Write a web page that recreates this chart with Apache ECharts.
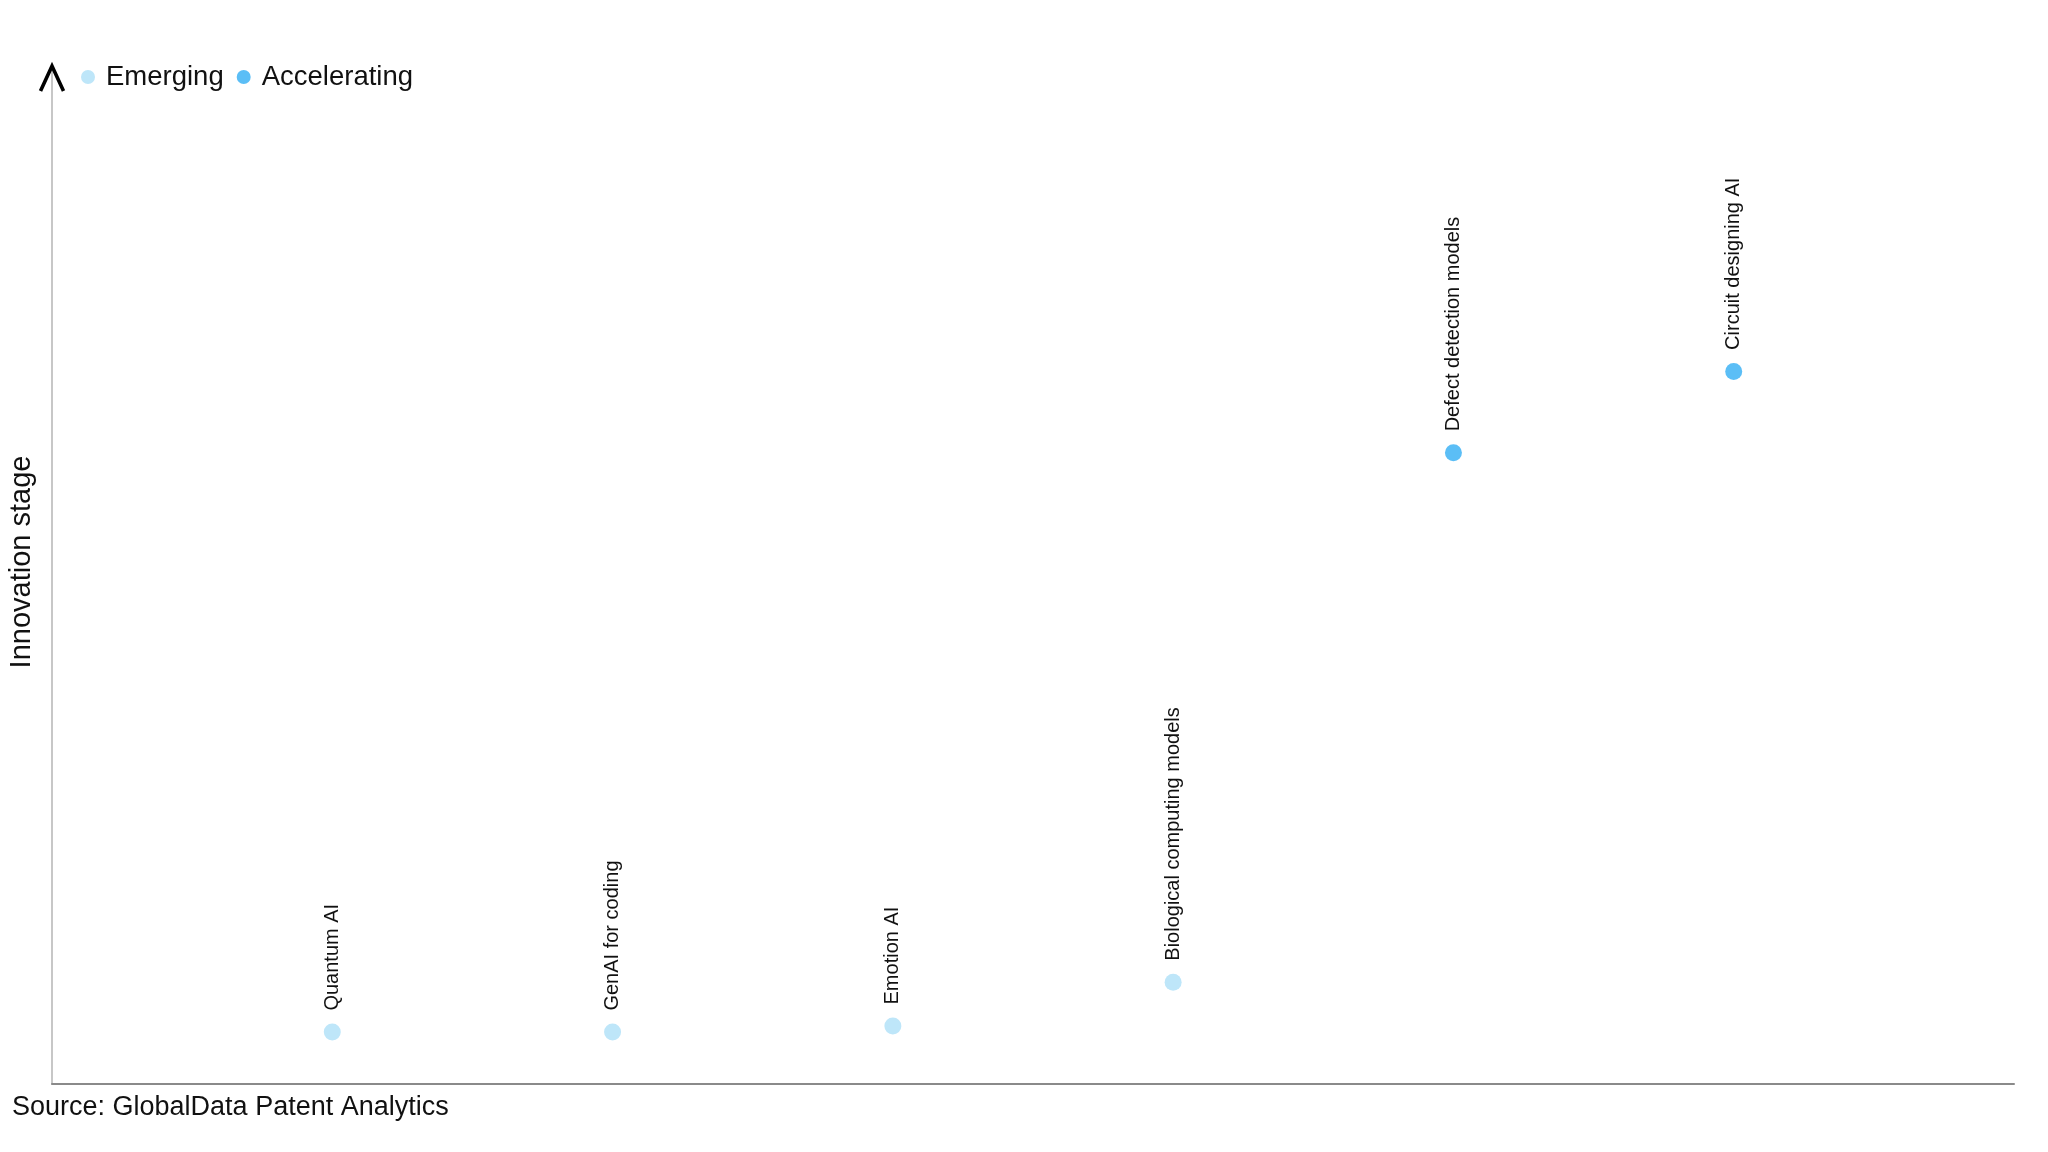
<!DOCTYPE html>
<html>
<head>
<meta charset="utf-8">
<script src="https://cdn.jsdelivr.net/npm/echarts@6/dist/echarts.min.js"></script>
<style>
html,body{margin:0;padding:0;background:#fff;}
#chart{width:2048px;height:1152px;}
</style>
</head>
<body>
<div id="chart"></div>
<script>
// Data
var emergingNames = ['Quantum AI', 'GenAI for coding', 'Emotion AI', 'Biological computing models'];
var emergingX = [1, 2, 3, 4];
var emergingY = [5.1, 5.1, 5.7, 10];
var acceleratingNames = ['Defect detection models', 'Circuit designing AI'];
var acceleratingX = [5, 6];
var acceleratingY = [62, 70];
var seriesNames = ['Emerging', 'Accelerating'];
var yAxisTitle = 'Innovation stage';
var sourceText = 'Source: GlobalData Patent Analytics';

var FONT = '"Liberation Sans", Arial, sans-serif';
function build(names, xs, ys) {
  return names.map(function (n, i) { return { name: n, value: [xs[i], ys[i]] }; });
}
var labelCfg = {
  show: true,
  position: 'top',
  rotate: 90,
  align: 'left',
  verticalAlign: 'middle',
  distance: 13,
  formatter: function (p) { return p.name; },
  color: '#111111',
  fontSize: 20,
  fontFamily: FONT
};

var chart = echarts.init(document.getElementById('chart'));
var option = {
  backgroundColor: '#ffffff',
  animation: false,
  textStyle: { fontFamily: FONT },
  grid: { left: 52, right: 34, top: 66, bottom: 68, containLabel: false },
  legend: {
    data: seriesNames,
    left: 76,
    top: 58,
    icon: 'circle',
    itemWidth: 26,
    itemHeight: 14,
    itemGap: 13,
    textStyle: { fontSize: 27.5, color: '#111111', fontFamily: FONT }
  },
  xAxis: {
    type: 'value',
    min: 0,
    max: 7,
    interval: 1,
    axisLine: { show: true, lineStyle: { color: '#8a8a8a', width: 2 } },
    axisTick: { show: false },
    axisLabel: { show: false },
    splitLine: { show: false }
  },
  yAxis: {
    type: 'value',
    min: 0,
    max: 100,
    axisLine: { show: true, lineStyle: { color: '#b5b5b5', width: 1.5 } },
    axisTick: { show: false },
    axisLabel: { show: false },
    splitLine: { show: false }
  },
  series: [
    {
      name: seriesNames[0],
      type: 'scatter',
      symbol: 'circle',
      symbolSize: 17,
      itemStyle: { color: '#bee6f9', opacity: 1 },
      label: labelCfg,
      data: build(emergingNames, emergingX, emergingY)
    },
    {
      name: seriesNames[1],
      type: 'scatter',
      symbol: 'circle',
      symbolSize: 17,
      itemStyle: { color: '#5bbef6', opacity: 1 },
      label: labelCfg,
      data: build(acceleratingNames, acceleratingX, acceleratingY)
    }
  ]
};
chart.setOption(option);
// chevron arrow at the top of the y axis, y-axis title and source note
var axisTop = chart.convertToPixel({ gridIndex: 0 }, [0, 100]);
chart.setOption({
  graphic: [{
    type: 'text',
    left: 12,
    top: 1094,
    style: { text: sourceText, fontSize: 27, fill: '#111111', fontFamily: FONT }
  }, {
    type: 'text',
    x: 22,
    y: 562,
    rotation: Math.PI / 2,
    style: { text: yAxisTitle, fontSize: 29, fill: '#111111', fontFamily: FONT, align: 'center', verticalAlign: 'middle' }
  }, {
    type: 'polyline',
    shape: { points: [[axisTop[0] - 11.5, axisTop[1] + 25], [axisTop[0], axisTop[1]], [axisTop[0] + 11.5, axisTop[1] + 25]] },
    style: { stroke: '#000', lineWidth: 3.6, fill: null, lineJoin: 'miter' },
    z: 100
  }]
});
</script>
</body>
</html>
